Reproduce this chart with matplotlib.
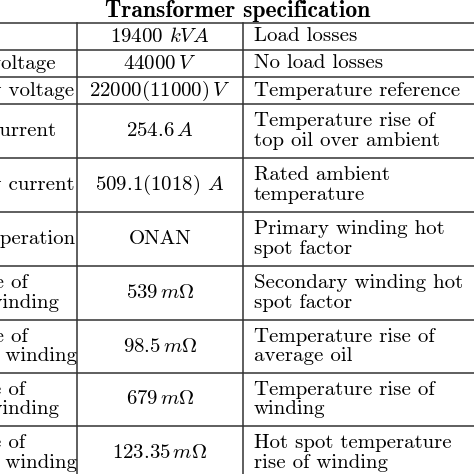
import matplotlib.pyplot as plt

plt.rcParams['font.family'] = ['cmr10', 'DejaVu Serif']
plt.rcParams['mathtext.fontset'] = 'cm'
plt.rcParams['axes.formatter.use_mathtext'] = True

TITLE = 'Transformer specification'
row_edges = [23, 50, 77, 104, 158, 212, 266, 320, 373, 426, 480]
col_edges = [77, 243]
left_labels = ['Rating', 'Primary voltage', 'Secondary voltage', 'Primary current',
               'Secondary current', 'Mode of operation',
               'Resistance of\nprimary winding', 'Resistance of\nsecondary winding',
               'Reactance of\nprimary winding', 'Reactance of\nsecondary winding']
values = [r'19400 $kVA$', r'44000$\,V$', r'22000(11000)$\,V$', r'254.6$\,A$',
          r'509.1(1018) $A$', 'ONAN', r'539$\,m\Omega$', r'98.5$\,m\Omega$',
          r'679$\,m\Omega$', r'123.35$\,m\Omega$']
right_labels = ['Load losses', 'No load losses', 'Temperature reference',
                'Temperature rise of\ntop oil over ambient', 'Rated ambient\ntemperature',
                'Primary winding hot\nspot factor', 'Secondary winding hot\nspot factor',
                'Temperature rise of\naverage oil', 'Temperature rise of\nwinding',
                'Hot spot temperature\nrise of winding']

fig = plt.figure(figsize=(4.74, 4.74), dpi=100, facecolor='white')
ax = fig.add_axes([0, 0, 1, 1])
ax.set_xlim(0, 474)
ax.set_ylim(474, 0)
ax.axis('off')

ax.text(238, 11, TITLE, ha='center', va='center', fontsize=17,
        family=['cmb10', 'DejaVu Serif'])

for y in row_edges:
    ax.plot([-10, 490], [y, y], color='#333333', lw=1.1, clip_on=False)
for x in col_edges:
    ax.plot([x, x], [row_edges[0], 490], color='#333333', lw=1.1, clip_on=False)

fs = 15
for i in range(len(values)):
    yc = (row_edges[i] + row_edges[i + 1]) / 2
    ax.text(-92, yc, left_labels[i], ha='left', va='center', fontsize=fs,
            linespacing=1.12, clip_on=True)
    ax.text(160, yc, values[i], ha='center', va='center', fontsize=fs)
    ax.text(254, yc, right_labels[i], ha='left', va='center', fontsize=fs,
            linespacing=1.12)

fig.savefig('out.png', dpi=100)
